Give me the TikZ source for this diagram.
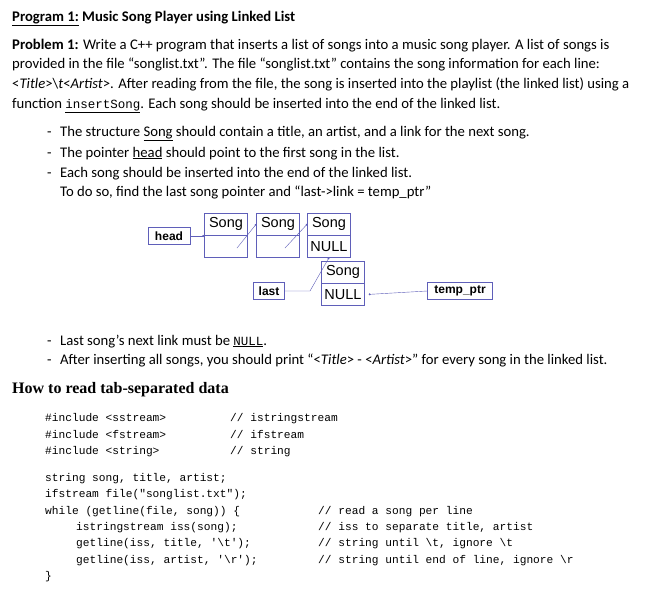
\documentclass[tikz,border=0pt]{standalone}
\usepackage{fontspec}
\setmainfont{Carlito}
\newfontfamily\arial{Liberation Sans}
\newfontfamily\timesbf{Liberation Serif}
\setmonofont{Liberation Mono}
\usetikzlibrary{positioning,arrows.meta}
\definecolor{boxblue}{RGB}{95,95,185}
\tikzset{
  txt/.style={anchor=base west, inner sep=0pt, font=\fontsize{14.7}{16}\selectfont},
  code/.style={anchor=base west, inner sep=0pt, font=\ttfamily\fontsize{11.2}{13}\selectfont},
  ptr/.style={draw=boxblue, fill=white, font=\arial\bfseries\fontsize{12}{13}\selectfont, inner sep=2pt, minimum height=17pt},
  cell/.style={draw=boxblue, font=\arial\fontsize{14.5}{15}\selectfont, minimum width=43pt, minimum height=22pt, inner sep=0pt},
  link/.style={draw=boxblue, -{Circle[length=2pt]}},
}
\newcommand{\dashitem}[3]{\node[txt] at (47,#1) {-}; \node[txt] (#3) at (60,#1) {#2};}
\begin{document}
\begin{tikzpicture}[x=1pt,y=-1pt]
    \useasboundingbox[fill=white] (0,0) rectangle (653,592);

    % Heading and problem text
    \node[txt, font=\bfseries\fontsize{14.7}{16}\selectfont] (title) at (12,21)
      {\underline{Program 1:} Music Song Player using Linked List};
    \node[txt] (p1) at (12,49) {\textbf{Problem 1:} Write a C++ program that inserts a list of songs into a music song player. A list of songs is};
    \node[txt] (p2) at (12,68) {provided in the file “songlist.txt”. The file “songlist.txt” contains the song information for each line:};
    \node[txt] (p3) at (12,88) {<\textit{Title}>\textbackslash\textit{t}<\textit{Artist}>. After reading from the file, the song is inserted into the playlist (the linked list) using a};
    \node[txt] (p4) at (12,108) {function \underline{\texttt{\fontsize{12.5}{13}\selectfont insertSong}}. Each song should be inserted into the end of the linked list.};

    % Bullets
    \dashitem{136}{The structure \underline{Song} should contain a title, an artist, and a link for the next song.}{b1}
    \dashitem{157}{The pointer \underline{head} should point to the first song in the list.}{b2}
    \dashitem{177}{Each song should be inserted into the end of the linked list.}{b3}
    \node[txt] (b4) at (60,196) {To do so, find the last song pointer and “last->link = temp\_ptr”};

    % Linked list diagram
    \node[ptr, minimum width=42pt] (head) at (169,236) {head};
    \foreach \n/\x/\low in {s1/226/{}, s2/278/{}, s3/329/NULL} {
      \node[cell] (\n) at (\x,224) {Song};
      \node[cell, below=0pt of \n] (\n low) {\low};
    }
    \node[cell] (s4) at (343,272) {Song};
    \node[cell, below=0pt of s4] (s4low) {NULL};
    \node[ptr, minimum width=31pt] (last) at (269,291) {last};
    \node[ptr, minimum width=65pt] (temp) at (460,291) {temp\_ptr};
    \coordinate (l1) at (237,248);
    \coordinate (l2) at (285,248);
    \draw[link] (head) -- (s1.west |- head);
    \draw[link] (l1) -- (s2.west);
    \draw[link] (l2) -- (s3.west);
    \draw[link] (last.east) -- (310,291) -- (s3low.south);
    \draw[link] (temp.west) -- ([xshift=4pt]s4low.east);

    % Bullets after diagram
    \dashitem{345}{Last song’s next link must be \underline{\texttt{\fontsize{12.5}{13}\selectfont NULL}}.}{b5}
    \dashitem{364}{After inserting all songs, you should print “<\textit{Title}> - <\textit{Artist}>” for every song in the linked list.}{b6}

    \node[anchor=base west, inner sep=0pt, font=\timesbf\bfseries\fontsize{16}{18}\selectfont] (how) at (12,393)
      {How to read tab-separated data};

    % Code
    \foreach \y/\s/\c in {421/{\#include <sstream>}/{// istringstream},
                          438/{\#include <fstream>}/{// ifstream},
                          454/{\#include <string>}/{// string}} {
      \node[code] at (45,\y) {\s};
      \node[code] at (230,\y) {\c};
    }
    \node[code] (c1) at (45,481) {string song, title, artist;};
    \node[code] (c2) at (45,497) {ifstream file("songlist.txt");};
    \node[code] (c3) at (45,514) {while (getline(file, song)) \{};
    \node[code] (c4) at (76,530) {istringstream iss(song);};
    \node[code] (c5) at (76,546) {getline(iss, title, '\textbackslash t');};
    \node[code] (c6) at (76,563) {getline(iss, artist, '\textbackslash r');};
    \node[code] (c7) at (45,579) {\}};
    \node[code] (m3) at (318,514) {// read a song per line};
    \node[code] (m4) at (318,530) {// iss to separate title, artist};
    \node[code] (m5) at (318,546) {// string until \textbackslash t, ignore \textbackslash t};
    \node[code] (m6) at (318,563) {// string until end of line, ignore \textbackslash r};
\end{tikzpicture}
\end{document}
